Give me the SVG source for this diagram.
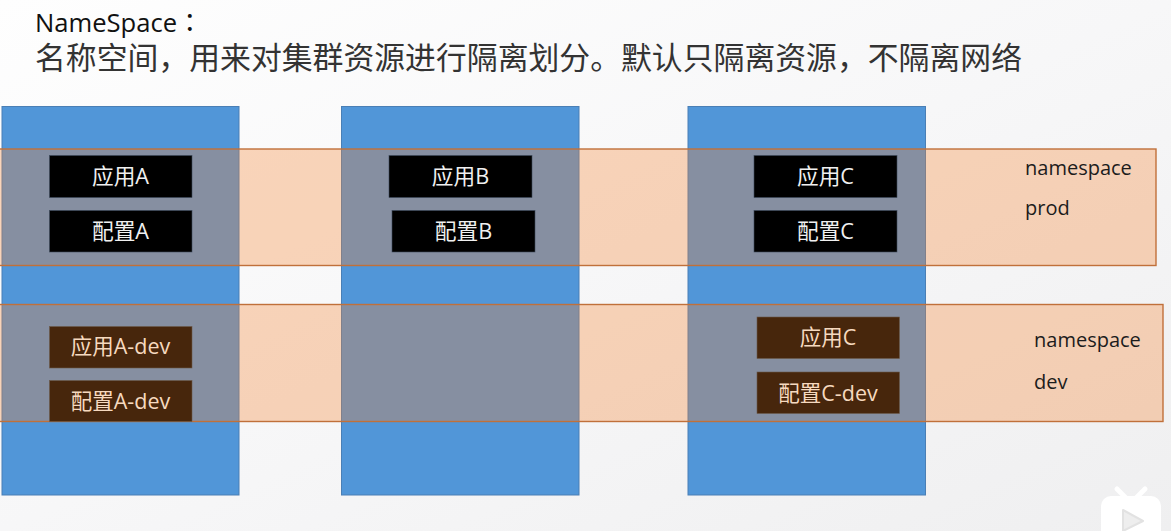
<svg xmlns="http://www.w3.org/2000/svg" width="1171" height="531" viewBox="0 0 1171 531">
<style>
text{font-family:"Open Sans","Noto Sans CJK SC",sans-serif}
.col{fill:#5196d8;stroke:#4a7fb5;stroke-width:1}
.band{fill:#f5842f;fill-opacity:.32;stroke:#c0703a;stroke-width:1.4}
.k{fill:#000;stroke:#3c4a5c;stroke-width:.6}
.b{fill:#47260c;stroke:#6b5a4c;stroke-width:.6}
.kt{fill:#f0f0f0;font-size:21.7px;text-anchor:middle}
.bt{fill:#f6d9bf;font-size:21.5px;text-anchor:middle}
.ns{fill:#1c1c1c;font-size:20px}
</style>
<defs>
<linearGradient id="bg" x1="0" y1="0" x2="1" y2="1">
<stop offset="0" stop-color="#fefefe"/><stop offset=".5" stop-color="#f7f7f8"/><stop offset="1" stop-color="#efeff0"/>
</linearGradient>
</defs>
<rect id="background" width="1171" height="531" fill="url(#bg)"/>
<g id="title">
<text x="35" y="32" font-size="25.6" fill="#111">NameSpace<tspan font-family="Noto Sans CJK TC, sans-serif">：</tspan></text>
<text x="35" y="69" font-size="30.85" fill="#333">名称空间，用来对集群资源进行隔离划分。默认只隔离资源，不隔离网络</text>
</g>
<g id="columns">
<rect id="col-a" class="col" x="2" y="106.500" width="237" height="388.500"/>
<rect id="col-b" class="col" x="341.500" y="106.500" width="237.500" height="388.500"/>
<rect id="col-c" class="col" x="688" y="106.500" width="237.500" height="388.500"/>
</g>
<g id="namespace-prod">
<rect class="band" x="-2" y="149" width="1158" height="116.500"/>
<text class="ns" x="1025" y="175">namespace</text>
<text class="ns" x="1025" y="215">prod</text>
</g>
<g id="namespace-dev">
<rect class="band" x="-2" y="304.500" width="1165" height="117"/>
<text class="ns" x="1034" y="347">namespace</text>
<text class="ns" x="1034" y="389">dev</text>
</g>
<g id="app-a"><rect class="k" x="49.500" y="155.500" width="142.500" height="42"/><text class="kt" x="120.500" y="184">应用A</text></g>
<g id="cfg-a"><rect class="k" x="49.500" y="210.500" width="142.500" height="41.500"/><text class="kt" x="120.500" y="239">配置A</text></g>
<g id="app-b"><rect class="k" x="389" y="155.500" width="143" height="42"/><text class="kt" x="460.500" y="184">应用B</text></g>
<g id="cfg-b"><rect class="k" x="392" y="210.500" width="143" height="41.500"/><text class="kt" x="463.500" y="239">配置B</text></g>
<g id="app-c"><rect class="k" x="754" y="155.500" width="143" height="42"/><text class="kt" x="825.500" y="184">应用C</text></g>
<g id="cfg-c"><rect class="k" x="754" y="210.500" width="143" height="41.500"/><text class="kt" x="825.500" y="239">配置C</text></g>
<g id="app-a-dev"><rect class="b" x="49.500" y="326.500" width="142.500" height="41.500"/><text class="bt" x="120.500" y="354">应用A-dev</text></g>
<g id="cfg-a-dev"><rect class="b" x="49.500" y="380.500" width="142.500" height="41"/><text class="bt" x="120.500" y="409">配置A-dev</text></g>
<g id="app-c-dev"><rect class="b" x="757" y="317" width="142.500" height="41.500"/><text class="bt" x="828" y="345">应用C</text></g>
<g id="cfg-c-dev"><rect class="b" x="757" y="372" width="142.500" height="41.500"/><text class="bt" x="828" y="400.500">配置C-dev</text></g>
<g id="connectors"/>
<g id="watermark">
<path d="M1117 489l9 9M1145 489l-9 9" stroke="#fff" stroke-width="5" stroke-linecap="round"/>
<rect x="1101" y="496" width="60" height="50" rx="10" fill="#fff"/>
<path d="M1123 510l20 11-20 10z" fill="#eee" stroke="#e2e2e2" stroke-width="2" stroke-linejoin="round"/>
</g>
</svg>
